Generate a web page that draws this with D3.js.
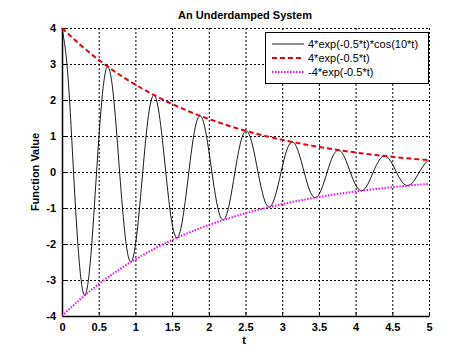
<!DOCTYPE html>
<html><head><meta charset="utf-8">
<script src="https://cdn.jsdelivr.net/npm/d3@7"></script>
<style>
html,body{margin:0;padding:0;background:#fff;}
svg text{font-family:"Liberation Sans",Arial,sans-serif;}
</style></head>
<body><svg id="c" width="474" height="355"></svg>
<script>
// Damped oscillation, sampled at extrema, half-heights and zero crossings
const tOsc = [0,0.079,0.157,0.236,0.314,0.393,0.471,0.550,0.628,0.707,0.785,0.864,0.942,1.021,1.100,1.178,1.257,1.335,1.414,1.492,1.571,1.649,1.728,1.806,1.885,1.963,2.042,2.121,2.199,2.278,2.356,2.435,2.513,2.592,2.670,2.749,2.827,2.906,2.985,3.063,3.142,3.220,3.299,3.377,3.456,3.534,3.613,3.691,3.770,3.848,3.927,4.006,4.084,4.163,4.241,4.320,4.398,4.477,4.555,4.634,4.712,4.791,4.869,4.948,5.0];
const yOsc = [4.00,2.72,0,-2.514,-3.419,-2.324,0,2.149,2.922,1.986,0,-1.836,-2.497,-1.698,0,1.569,2.134,1.451,0,-1.341,-1.824,-1.240,0,1.146,1.559,1.060,0,-0.980,-1.332,-0.906,0,0.837,1.138,0.774,0,-0.716,-0.973,-0.661,0,0.611,0.832,0.565,0,-0.523,-0.711,-0.483,0,0.447,0.607,0.413,0,-0.382,-0.519,-0.353,0,0.326,0.444,0.302,0,-0.279,-0.379,-0.258,0,0.238,0.317];
// Envelope
const tEnv = [0,0.25,0.5,0.75,1,1.25,1.5,1.75,2,2.25,2.5,2.75,3,3.25,3.5,3.75,4,4.25,4.5,4.75,5];
const yUpper = [4.000,3.530,3.115,2.749,2.426,2.141,1.889,1.667,1.472,1.299,1.146,1.011,0.893,0.788,0.695,0.613,0.541,0.478,0.422,0.372,0.328];
const yLower = [-4.000,-3.530,-3.115,-2.749,-2.426,-2.141,-1.889,-1.667,-1.472,-1.299,-1.146,-1.011,-0.893,-0.788,-0.695,-0.613,-0.541,-0.478,-0.422,-0.372,-0.328];
const xTicks = [0,0.5,1,1.5,2,2.5,3,3.5,4,4.5,5];
const xTickLabels = ["0","0.5","1","1.5","2","2.5","3","3.5","4","4.5","5"];
const yTicks = [-4,-3,-2,-1,0,1,2,3,4];
const yTickLabels = ["-4","-3","-2","-1","0","1","2","3","4"];
const seriesNames = ["4*exp(-0.5*t)*cos(10*t)","4*exp(-0.5*t)","-4*exp(-0.5*t)"];
const titleText = "An Underdamped System";
const xLabel = "t", yLabel = "Function Value";

const svg = d3.select("#c");
const L=62, R=429, T=28, B=316;
const x = d3.scaleLinear().domain([0,5]).range([L,R]);
const y = d3.scaleLinear().domain([-4,4]).range([B,T]);

// grid
const g = svg.append("g");
g.selectAll(".vg").data(xTicks).enter().append("line")
  .attr("x1",d=>x(d)+0.5).attr("x2",d=>x(d)+0.5).attr("y1",T).attr("y2",B)
  .attr("stroke","#000").attr("stroke-width",1).attr("stroke-dasharray","2,2");
g.selectAll(".hg").data(yTicks).enter().append("line")
  .attr("y1",d=>Math.round(y(d))+0.5).attr("y2",d=>Math.round(y(d))+0.5).attr("x1",L).attr("x2",R)
  .attr("stroke","#000").attr("stroke-width",1).attr("stroke-dasharray","2,2");

// axes
const xAxis = d3.axisBottom(x).tickValues(xTicks).tickFormat((d,i)=>xTickLabels[i]).tickSizeInner(-4).tickSizeOuter(0).tickPadding(7);
const yAxis = d3.axisLeft(y).tickValues(yTicks).tickFormat((d,i)=>yTickLabels[i]).tickSizeInner(-4).tickSizeOuter(0).tickPadding(6);
const ax = svg.append("g").attr("transform",`translate(0,${B})`).call(xAxis);
const ay = svg.append("g").attr("transform",`translate(${L},0)`).call(yAxis);
[ax,ay].forEach(a=>{
  a.select(".domain").attr("stroke","#000").attr("stroke-width",1.5);
  a.selectAll(".tick line").attr("stroke","#000");
  a.selectAll("text").attr("font-family","Liberation Sans, Arial, sans-serif").attr("font-size",11).attr("font-weight","bold").attr("fill","#000");
});

// lines
const lineOsc = d3.line().x((d,i)=>x(tOsc[i])).y(d=>y(d)).curve(d3.curveNatural);
const lineEnv = d3.line().x((d,i)=>x(tEnv[i])).y(d=>y(d)).curve(d3.curveMonotoneX);
svg.append("path").attr("d",lineOsc(yOsc)).attr("fill","none").attr("stroke","#000").attr("stroke-width",0.9);
svg.append("path").attr("d",lineEnv(yUpper)).attr("fill","none").attr("stroke","#e8000b").attr("stroke-width",2).attr("stroke-dasharray","5,3");
svg.append("path").attr("d",lineEnv(yLower)).attr("fill","none").attr("stroke","#ff00ff").attr("stroke-width",2).attr("stroke-dasharray","1.5,1.5");

// title and labels
svg.append("text").attr("x",245).attr("y",19).attr("text-anchor","middle").attr("font-size",11).attr("font-weight","bold").text(titleText);
svg.append("text").attr("x",244).attr("y",344).attr("text-anchor","middle").attr("font-size",11).attr("font-weight","bold").text(xLabel);
svg.append("text").attr("transform","translate(39,172) rotate(-90)").attr("text-anchor","middle").attr("font-size",11).attr("font-weight","bold").text(yLabel);

// legend
const lg = svg.append("g");
lg.append("rect").attr("x",265.5).attr("y",32.5).attr("width",163).attr("height",51).attr("fill","#fff").attr("stroke","#000").attr("stroke-width",1);
const styles = [{c:"#000",w:0.9,d:null},{c:"#e8000b",w:2,d:"5,3"},{c:"#ff00ff",w:2,d:"1.5,1.5"}];
const rowY = [44,58,72];
seriesNames.forEach((n,i)=>{
  const l = lg.append("line").attr("x1",272).attr("x2",304).attr("y1",rowY[i]).attr("y2",rowY[i])
    .attr("stroke",styles[i].c).attr("stroke-width",styles[i].w);
  if(styles[i].d) l.attr("stroke-dasharray",styles[i].d);
  lg.append("text").attr("x",308).attr("y",rowY[i]+4).attr("font-size",11).text(n);
});
</script></body></html>
